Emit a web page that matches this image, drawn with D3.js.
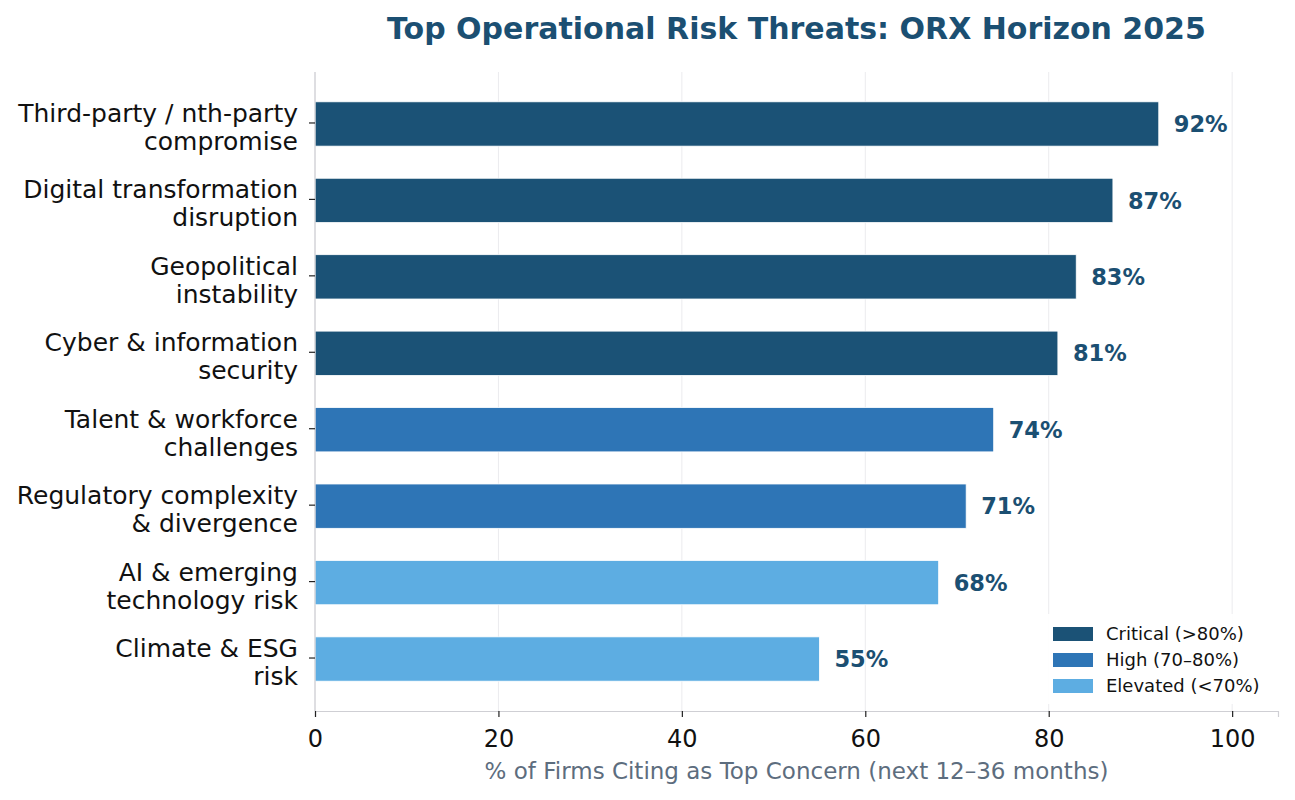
<!DOCTYPE html>
<html><head><meta charset="utf-8">
<script src="https://cdn.jsdelivr.net/npm/d3@7"></script>
<style>body{margin:0;background:#fff;} svg{display:block;font-family:"DejaVu Sans",sans-serif;}</style>
</head><body>
<svg id="c" width="1295" height="800"></svg>
<script>
const categories = [
  ["Third-party / nth-party","compromise"],
  ["Digital transformation","disruption"],
  ["Geopolitical","instability"],
  ["Cyber & information","security"],
  ["Talent & workforce","challenges"],
  ["Regulatory complexity","& divergence"],
  ["AI & emerging","technology risk"],
  ["Climate & ESG","risk"]
];
const values = [92, 87, 83, 81, 74, 71, 68, 55];
const tiers = ["Critical","Critical","Critical","Critical","High","High","Elevated","Elevated"];
const tierNames = ["Critical","High","Elevated"];
const tierLabels = ["Critical (>80%)","High (70–80%)","Elevated (<70%)"];
const tierColors = ["#1b5276","#2e75b6","#5dade2"];
const xTicks = [0,20,40,60,80,100];

const svg = d3.select("#c");
const L = 315, R = 1278, T = 72, B = 711;
const x = d3.scaleLinear().domain([0,105]).range([L,R]);
const y = d3.scaleLinear().domain([-0.68, 7.68]).range([T,B]);
const color = d3.scaleOrdinal().domain(tierNames).range(tierColors);
const barH = y(0.29) - y(-0.29);

// grid
svg.append("g").selectAll("line").data(xTicks).join("line")
  .attr("x1",d=>x(d)).attr("x2",d=>x(d)).attr("y1",T).attr("y2",B)
  .attr("stroke","#ebebee").attr("stroke-width",1);

// bars
svg.append("g").selectAll("rect").data(values).join("rect")
  .attr("x",x(0)).attr("y",(d,i)=>y(i)-barH/2)
  .attr("width",d=>x(d)-x(0)).attr("height",barH)
  .attr("fill",(d,i)=>color(tiers[i]))
  .attr("stroke","#ffffff").attr("stroke-width",0.8);

// value labels
svg.append("g").selectAll("text").data(values).join("text")
  .attr("x",d=>x(d)+15).attr("y",(d,i)=>y(i)).attr("dy","0.36em")
  .attr("font-size",22.5).attr("font-weight","bold").attr("fill","#1b4f72")
  .text(d=>d+"%");

// spines
svg.append("line").attr("x1",L).attr("x2",L).attr("y1",T).attr("y2",B).attr("stroke","#cfcfd4").attr("stroke-width",1.2);

// x axis
const xAxis = d3.axisBottom(x).tickValues(xTicks).tickSize(6).tickPadding(0);
const gx = svg.append("g").attr("transform",`translate(0,${B})`).call(xAxis);
gx.select(".domain").attr("stroke","#cfcfd4").attr("stroke-width",1.2);
gx.selectAll(".tick line").attr("stroke","#222").attr("stroke-width",1.2);
gx.selectAll(".tick text").attr("font-size",24).attr("fill","#111").attr("font-family","DejaVu Sans")
  .attr("dy",null).attr("y",36);

// y ticks and labels
const gy = svg.append("g");
gy.selectAll("line").data(categories).join("line")
  .attr("x1",L-6).attr("x2",L).attr("y1",(d,i)=>y(i)-1).attr("y2",(d,i)=>y(i)-1)
  .attr("stroke","#222").attr("stroke-width",1.2);
const lab = gy.selectAll("text").data(categories).join("text")
  .attr("x",298).attr("y",(d,i)=>y(i)-2).attr("text-anchor","end")
  .attr("font-size",25).attr("fill","#111");
lab.selectAll("tspan").data(d=>d).join("tspan")
  .attr("x",298).attr("dy",(d,j)=> j===0 ? 0 : 28).text(d=>d);

// axis title
svg.append("text").attr("x",(L+R)/2).attr("y",779).attr("text-anchor","middle")
  .attr("font-size",23).attr("fill","#5d6d7e")
  .text("% of Firms Citing as Top Concern (next 12–36 months)");

// title
svg.append("text").attr("x",(L+R)/2).attr("y",39).attr("text-anchor","middle")
  .attr("font-size",30).attr("font-weight","bold").attr("fill","#1b4f72")
  .text("Top Operational Risk Threats: ORX Horizon 2025");

// legend
const lg = svg.append("g").attr("transform","translate(1044,614)");
lg.append("rect").attr("width",230).attr("height",90).attr("fill","#fff").attr("opacity",0.9);
const li = lg.selectAll("g").data(tierNames).join("g")
  .attr("transform",(d,i)=>`translate(9,${13+i*26})`);
li.append("rect").attr("width",40).attr("height",14).attr("fill",d=>color(d));
li.append("text").attr("x",53).attr("y",7).attr("dy","0.36em").attr("font-size",18).attr("fill","#111")
  .text((d,i)=>tierLabels[i]);
</script>
</body></html>
